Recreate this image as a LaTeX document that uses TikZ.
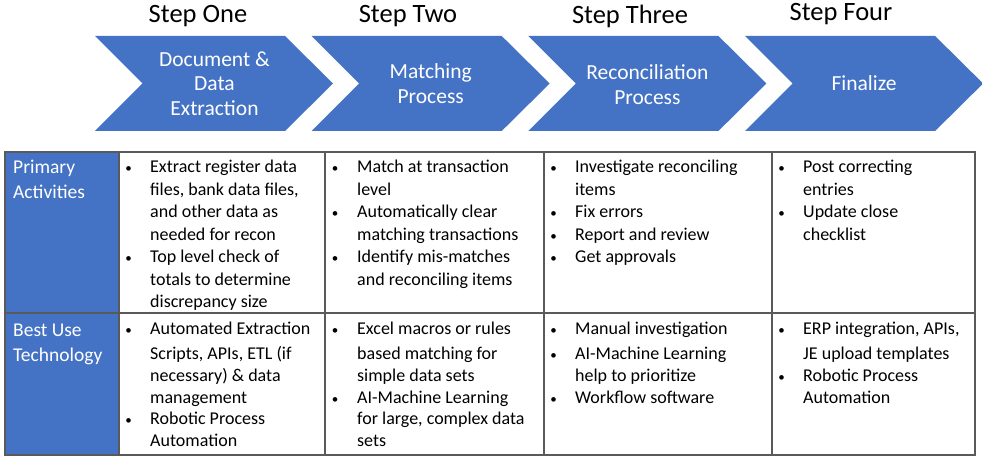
\documentclass[tikz,border=0pt]{standalone}
\usepackage{fontspec}
\setmainfont{Carlito}
\definecolor{chev}{HTML}{4472C4}
\definecolor{gridc}{HTML}{5A5A5A}
\begin{document}
\begin{tikzpicture}[x=1pt,y=-1pt,
  steplbl/.style={font=\fontsize{26.5}{30}\selectfont, text=black, inner sep=0, anchor=center},
  chevtxt/.style={font=\fontsize{21.5}{24.5}\selectfont, text=white, align=center, inner sep=0},
  rowlbl/.style={font=\fontsize{19.5}{25}\selectfont, text=white, inner sep=0, anchor=base west},
  body/.style={font=\fontsize{18}{22}\selectfont, inner sep=0, anchor=base west},
  bul/.style={font=\fontsize{13}{16}\selectfont, inner sep=0, anchor=base},
  gridline/.style={draw=gridc, line width=1.4pt}]
\useasboundingbox (0,0) rectangle (982,462);
% chevrons
\foreach \i in {0,...,3}{
  \pgfmathsetmacro\xo{95+216.7*\i}
  \fill[chev] (\xo,36) -- (\xo+190,36) -- (\xo+238,83.5) -- (\xo+190,131) -- (\xo,131) -- (\xo+47.5,83.5) -- cycle;
}
\node[chevtxt] (c1) at (214.5,83.5) {Document \&\\Data\\Extraction};
\node[chevtxt] (c2) at (430.7,83.5) {Matching\\Process};
\node[chevtxt] (c3) at (647.4,84.5) {Reconciliation\\Process};
\node[chevtxt] (c4) at (864.1,83.5) {Finalize};
% step labels
\node[steplbl] (s1) at (198,16) {Step One};
\node[steplbl] (s2) at (408,16) {Step Two};
\node[steplbl] (s3) at (630,16) {Step Three};
\node[steplbl] (s4) at (841,14) {Step Four};
% table
\fill[chev] (5,152) rectangle (119,455);
\draw[gridline] (5,152) rectangle (975,455);
\draw[gridline] (5,313) -- (975,313);
\foreach \xx in {119,325,544,772} \draw[gridline] (\xx,152) -- (\xx,455);
% row labels
\node[rowlbl] (l1a) at (13,174) {Primary};
\node[rowlbl] (l1b) at (13,199) {Activities};
\node[rowlbl] (l2a) at (13,336) {Best Use};
\node[rowlbl] (l2b) at (13,361) {Technology};
% column 2 row 1
\node[bul] (b21a) at (128.5,173) {•};
\node[body] (t21a) at (150,173) {Extract register data};
\node[body] (t21b) at (150,195.4) {files, bank data files,};
\node[body] (t21c) at (150,217.8) {and other data as};
\node[body] (t21d) at (150,240.2) {needed for recon};
\node[bul] (b21b) at (128.5,262.6) {•};
\node[body] (t21e) at (150,262.6) {Top level check of};
\node[body] (t21f) at (150,285) {totals to determine};
\node[body] (t21g) at (150,307.4) {discrepancy size};
% column 3 row 1
\node[bul] (b31a) at (335,173) {•};
\node[body] (t31a) at (357,173) {Match at transaction};
\node[body] (t31b) at (357,195.4) {level};
\node[bul] (b31b) at (335,217.8) {•};
\node[body] (t31c) at (357,217.8) {Automatically clear};
\node[body] (t31d) at (357,240.2) {matching transactions};
\node[bul] (b31c) at (335,262.6) {•};
\node[body] (t31e) at (357,262.6) {Identify mis-matches};
\node[body] (t31f) at (357,285) {and reconciling items};
% column 4 row 1
\node[bul] (b41a) at (553.5,173) {•};
\node[body] (t41a) at (575,173) {Investigate reconciling};
\node[body] (t41b) at (575,195.4) {items};
\node[bul] (b41b) at (553.5,217.8) {•};
\node[body] (t41c) at (575,217.8) {Fix errors};
\node[bul] (b41c) at (553.5,240.2) {•};
\node[body] (t41d) at (575,240.2) {Report and review};
\node[bul] (b41d) at (553.5,262.6) {•};
\node[body] (t41e) at (575,262.6) {Get approvals};
% column 5 row 1
\node[bul] (b51a) at (781.5,173) {•};
\node[body] (t51a) at (803,173) {Post correcting};
\node[body] (t51b) at (803,195.4) {entries};
\node[bul] (b51b) at (781.5,217.8) {•};
\node[body] (t51c) at (803,217.8) {Update close};
\node[body] (t51d) at (803,240.2) {checklist};
% column 2 row 2
\node[bul] (b22a) at (128.5,334) {•};
\node[body] (t22a) at (150,334) {Automated Extraction};
\node[body] (t22b) at (150,359) {Scripts, APIs, ETL (if};
\node[body] (t22c) at (150,381) {necessary) \& data};
\node[body] (t22d) at (150,403) {management};
\node[bul] (b22b) at (128.5,424.5) {•};
\node[body] (t22e) at (150,424.5) {Robotic Process};
\node[body] (t22f) at (150,446) {Automation};
% column 3 row 2
\node[bul] (b32a) at (335,334) {•};
\node[body] (t32a) at (357,334) {Excel macros or rules};
\node[body] (t32b) at (357,359) {based matching for};
\node[body] (t32c) at (357,381) {simple data sets};
\node[bul] (b32b) at (335,403) {•};
\node[body] (t32d) at (357,403) {AI-Machine Learning};
\node[body] (t32e) at (357,424.5) {for large, complex data};
\node[body] (t32f) at (357,446) {sets};
% column 4 row 2
\node[bul] (b42a) at (553.5,334) {•};
\node[body] (t42a) at (575,334) {Manual investigation};
\node[bul] (b42b) at (553.5,359) {•};
\node[body] (t42b) at (575,359) {AI-Machine Learning};
\node[body] (t42c) at (575,381) {help to prioritize};
\node[bul] (b42c) at (553.5,403) {•};
\node[body] (t42d) at (575,403) {Workflow software};
% column 5 row 2
\node[bul] (b52a) at (781.5,334) {•};
\node[body] (t52a) at (803,334) {ERP integration, APIs,};
\node[body] (t52b) at (803,359) {JE upload templates};
\node[bul] (b52b) at (781.5,381) {•};
\node[body] (t52c) at (803,381) {Robotic Process};
\node[body] (t52d) at (803,403) {Automation};
\end{tikzpicture}
\end{document}
